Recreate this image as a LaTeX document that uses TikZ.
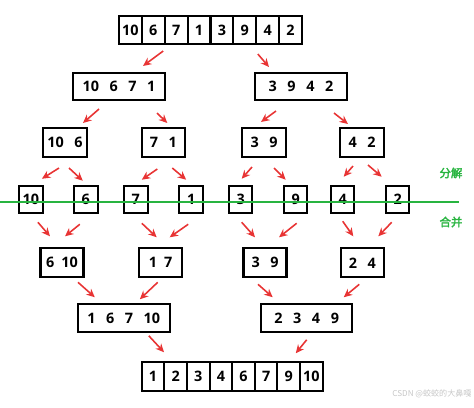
\documentclass[tikz,border=0pt]{standalone}
\usepackage{fontspec}
\setmainfont{Open Sans}
\newfontfamily\cjk{Noto Sans CJK SC}
\newfontfamily\cjkbold{Noto Sans CJK SC}[FakeBold=2.5]
\usetikzlibrary{arrows.meta,calc}
\definecolor{arrred}{RGB}{232,52,52}
\definecolor{splitgreen}{RGB}{40,180,64}
\newcommand{\gapp}{\hspace{6pt}}
\tikzset{
  cell/.style={draw, line width=1.15pt, inner sep=0pt, minimum width=4.57mm,
    minimum height=5.6mm, font=\bfseries\fontsize{8.2}{9}\selectfont},
  arr/.style={-{Stealth[length=4.8pt,width=4.4pt]}, arrred, line width=0.9pt},
  lbl/.style={splitgreen, font=\cjkbold\fontsize{6.5}{7}\selectfont}
}
\begin{document}
\begin{tikzpicture}[x=0.2mm, y=-0.2mm]
  \useasboundingbox (0,0) rectangle (474,407);
  % tableau de depart
  \foreach \v [count=\i] in {10,6,7,1,3,9,4,2}
    \node[cell] (in\i) at ({119+22.875*(\i-0.5)},30) {\v};
  % decomposition
  \node[cell, minimum width=18.4mm, minimum height=5.4mm] (half1) at (119,86.5) {10\gapp6\gapp7\gapp1};
  \node[cell, minimum width=18.4mm, minimum height=5.4mm] (half2) at (301,86.5) {3\gapp9\gapp4\gapp2};
  \node[cell, minimum width=8.7mm, minimum height=5.8mm] (quart1) at (65,142.5) {10\gapp6};
  \node[cell, minimum width=8.7mm, minimum height=5.8mm] (quart2) at (163.3,142.5) {7\gapp1};
  \node[cell, minimum width=8.7mm, minimum height=5.8mm] (quart3) at (264,142.5) {3\gapp9};
  \node[cell, minimum width=8.7mm, minimum height=5.8mm] (quart4) at (362,142.5) {4\gapp2};
  \foreach \v/\x [count=\i] in {10/30.9,6/85.8,7/135.8,1/191.2,3/240.7,9/295.7,4/342.7,2/397.7}
    \node[cell, minimum width=4.7mm, minimum height=5.5mm] (single\i) at (\x,199.5) {\v};
  % fusion
  \node[cell, minimum width=8.6mm, minimum height=5.8mm] (pair1) at (62,262.8) {6\hspace{4pt}10};
  \node[cell, minimum width=8.6mm, minimum height=5.8mm] (pair2) at (160.7,262.8) {1\hspace{4pt}7};
  \node[cell, minimum width=8.6mm, minimum height=5.8mm] (pair3) at (265,262.8) {3\gapp9};
  \node[cell, minimum width=8.6mm, minimum height=5.8mm] (pair4) at (362.3,262.8) {2\gapp4};
  \node[cell, minimum width=18.45mm, minimum height=5.5mm] (merge1) at (123.8,318) {1\gapp6\gapp7\gapp10};
  \node[cell, minimum width=18.25mm, minimum height=5.5mm] (merge2) at (306.7,318) {2\gapp3\gapp4\gapp9};
  \foreach \v [count=\i] in {1,2,3,4,6,7,9,10}
    \node[cell, minimum width=4.52mm, minimum height=5.7mm] (out\i) at ({141.7+22.625*(\i-0.5)},376.5) {\v};
  % fleches de decomposition
  \draw[arr] ($(in3.south)+(-13,6)$) -- ($(half1.north)+(24,-6)$);
  \draw[arr] ($(in6.south)+(13,9)$) -- ($(half2.north)+(-32,-5)$);
  \draw[arr] ($(half1.south)+(-20,8)$) -- ($(quart1.north)+(18,-4)$);
  \draw[arr] ($(half1.south)+(38,12)$) -- ($(quart2.north)+(4,-4)$);
  \draw[arr] ($(half2.south)+(-25,10)$) -- ($(quart3.north)+(-3,-5)$);
  \draw[arr] ($(half2.south)+(33,12)$) -- ($(quart4.north)+(-14,-3)$);
  \draw[arr] ($(quart1.south)+(-6,10)$) -- ($(single1.north)+(11,-6)$);
  \draw[arr] ($(quart1.south)+(4,10)$) -- ($(single2.north)+(-3,-4)$);
  \draw[arr] ($(quart2.south)+(-6,11)$) -- ($(single3.north)+(6,-5)$);
  \draw[arr] ($(quart2.south)+(9,10)$) -- ($(single4.north)+(-5,-5)$);
  \draw[arr] ($(quart3.south)+(-12,9)$) -- ($(single5.north)+(1,-6)$);
  \draw[arr] ($(quart3.south)+(10,10)$) -- ($(single6.north)+(-10,-5)$);
  \draw[arr] ($(quart4.south)+(-9,8)$) -- ($(single7.north)+(1,-8)$);
  \draw[arr] ($(quart4.south)+(6,7)$) -- ($(single8.north)+(-16,-8)$);
  % fleches de fusion
  \draw[arr] ($(single1.south)+(7,8)$) -- ($(pair1.north)+(-12,-11)$);
  \draw[arr] ($(single2.south)+(-6,10)$) -- ($(pair1.north)+(3,-11)$);
  \draw[arr] ($(single3.south)+(6,9)$) -- ($(pair2.north)+(-4,-10)$);
  \draw[arr] ($(single4.south)+(-3,10)$) -- ($(pair2.north)+(9,-10)$);
  \draw[arr] ($(single5.south)+(1,8)$) -- ($(pair3.north)+(-10,-10)$);
  \draw[arr] ($(single6.south)+(1,9)$) -- ($(pair3.north)+(14,-10)$);
  \draw[arr] ($(single7.south)+(0,7)$) -- ($(pair4.north)+(-9,-11)$);
  \draw[arr] ($(single8.south)+(-6,8)$) -- ($(pair4.north)+(16,-11)$);
  \draw[arr] ($(pair1.south)+(16,4)$) -- ($(merge1.north)+(-29,-6)$);
  \draw[arr] ($(pair2.south)+(-3,4)$) -- ($(merge1.north)+(16,-4)$);
  \draw[arr] ($(pair3.south)+(-7,6)$) -- ($(merge2.north)+(-34,-6)$);
  \draw[arr] ($(pair4.south)+(-3,6)$) -- ($(merge2.north)+(37,-6)$);
  \draw[arr] ($(merge1.south)+(25,3)$) -- ($(out1.north)+(11,-9)$);
  \draw[arr] ($(merge2.south)+(0,7)$) -- ($(out7.north)+(7,-8)$);
  % ligne de separation
  \draw[draw=splitgreen, line width=1pt] (0,201.7) -- (459,201.7);
  \node[lbl] (split) at (451,173) {分解};
  \node[lbl] (merge) at (451,222) {合并};
  \node[text=gray!45, font=\cjk\fontsize{4.6}{5}\selectfont] (mark) at (432,394) {CSDN @蛟蛟的大鼻嘎};
\end{tikzpicture}
\end{document}
